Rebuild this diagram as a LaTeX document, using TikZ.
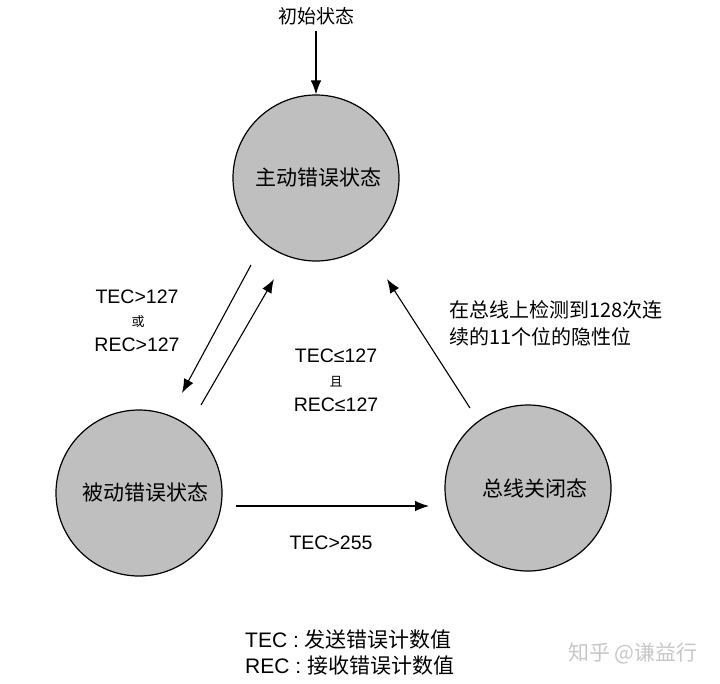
\documentclass[tikz,border=0pt]{standalone}
\usepackage{fontspec}
\setmainfont{Liberation Sans}
\newfontfamily\cjk{Noto Sans CJK SC}
\usetikzlibrary{arrows.meta}
\begin{document}
\begin{tikzpicture}[x=1pt,y=-1pt,
  state/.style={circle,draw=black,line width=1.2pt,fill=black!25,minimum size=166pt,inner sep=0pt,font=\fontsize{21}{24}\selectfont\cjk},
  lbl/.style={font=\fontsize{19.5}{22}\selectfont,align=center,inner sep=0pt},
  small/.style={font=\fontsize{13}{15}\selectfont\cjk,inner sep=0pt},
  arr/.style={line width=1.1pt,-{Latex[length=14pt,width=10.5pt]}}]
\useasboundingbox (0,0) rectangle (720,683);
\node[state] (active) at (316,178) {};
\node[state] (passive) at (139,493) {};
\node[state] (busoff) at (528,488) {};
\node[font=\fontsize{21}{24}\selectfont\cjk,inner sep=0pt] (t1) at (318.5,178) {主动错误状态};
\node[font=\fontsize{21}{24}\selectfont\cjk,inner sep=0pt] (t2) at (145,493) {被动错误状态};
\node[font=\fontsize{21}{24}\selectfont\cjk,inner sep=0pt] (t3) at (534.5,488) {总线关闭态};
\node[font=\fontsize{19}{22}\selectfont\cjk,inner sep=0pt] (init) at (316,16) {初始状态};
\coordinate (a1) at (251,265); \coordinate (p1) at (182,393);
\coordinate (p2) at (201,405); \coordinate (a2) at (274,279);
\coordinate (b1) at (470,408); \coordinate (a3) at (387,279);
\coordinate (p3) at (236,506); \coordinate (b2) at (429,506);
\draw[arr] (init.south) ++(0,6) -- (active.north);
\draw[arr] (a1) -- (p1);
\draw[arr] (p2) -- (a2);
\draw[arr] (b1) -- (a3);
\draw[arr] (p3) -- (b2);
\node[lbl] (l1a) at (137,297) {TEC>127};
\node[small] (l1b) at (138,322) {或};
\node[lbl] (l1c) at (137,345) {REC>127};
\node[lbl] (l2a) at (336,356) {TEC≤127};
\node[small] (l2b) at (336,382) {且};
\node[lbl] (l2c) at (336,405) {REC≤127};
\node[lbl,anchor=west,font=\fontsize{20}{27}\selectfont\cjk,align=left] (l3) at (449,323.5) {在总线上检测到128次连\\续的11个位的隐性位};
\node[lbl] (l4) at (331,543) {TEC>255};
\node[lbl,anchor=west,align=left,font=\fontsize{21}{26}\selectfont] (legend) at (245,652) {TEC : {\cjk 发送错误计数值}\\REC : {\cjk 接收错误计数值}};
\node[anchor=west,inner sep=0pt,text=black!22,font=\fontsize{21}{24}\selectfont\cjk] (wm) at (568,653) {知乎 @谦益行};
\end{tikzpicture}
\end{document}
